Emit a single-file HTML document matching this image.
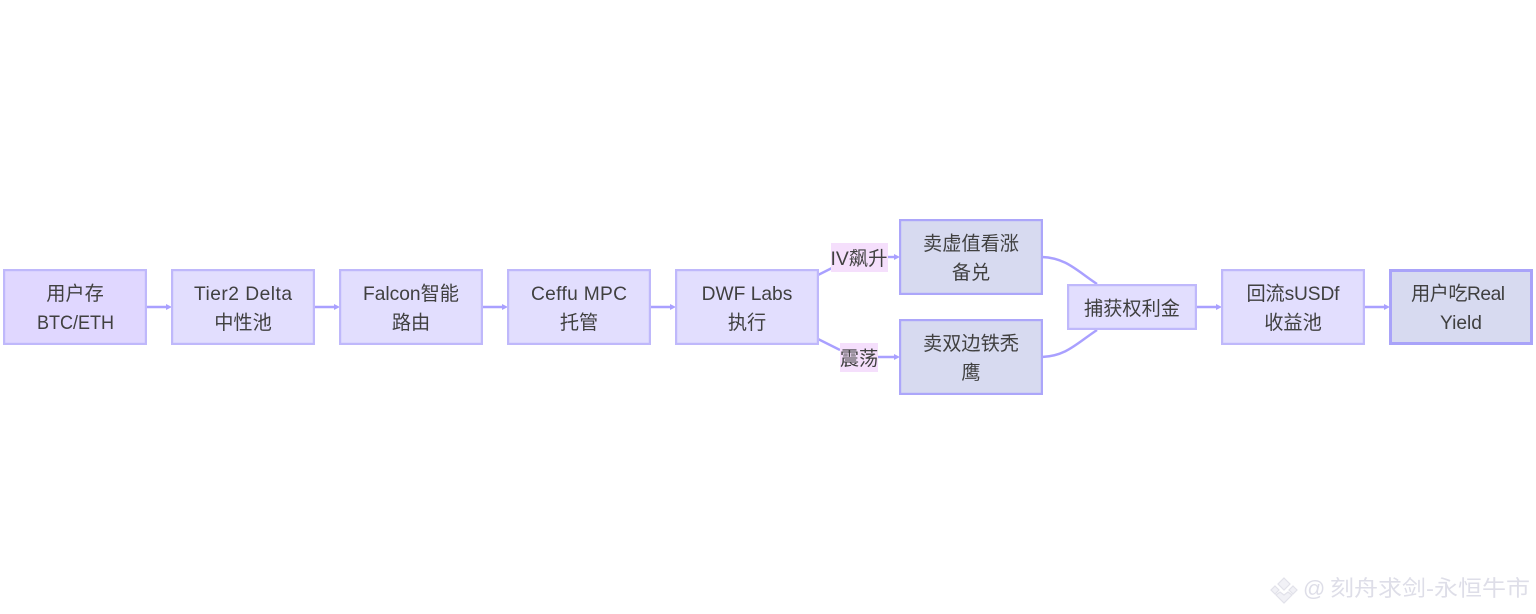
<!DOCTYPE html>
<html lang="zh">
<head>
<meta charset="utf-8">
<style>
html,body{margin:0;padding:0;background:#fff;width:1536px;height:614px;overflow:hidden}
svg{display:block}
text{font-family:"Liberation Sans","Noto Sans CJK SC",sans-serif;font-size:19.2px;fill:#404040;text-anchor:middle}
.n{fill:#e2defe;stroke:#bfb8fb;stroke-width:2.2}
.s{fill:#e0d7ff;stroke:#bfb8fb;stroke-width:2.2}
.d{fill:#d7daf0;stroke:#aca6fa;stroke-width:2.2}
.f{fill:#d7daf0;stroke:#a9a3f9;stroke-width:3}
.e{fill:none;stroke:#a9a0ff;stroke-width:2.4}
.a{fill:#a9a0ff}
.l{fill:#f5dffc}
.w{font-size:22px;fill:#dedee8;text-anchor:start}
</style>
</head>
<body>
<svg width="1536" height="614" viewBox="0 0 1536 614" xmlns="http://www.w3.org/2000/svg">
<!-- connectors -->
<path class="e" d="M146 307H168"/><path class="a" d="M172 307l-6-3v6z"/>
<path class="e" d="M314 307H336"/><path class="a" d="M340 307l-6-3v6z"/>
<path class="e" d="M482 307H504"/><path class="a" d="M508 307l-6-3v6z"/>
<path class="e" d="M650 307H672"/><path class="a" d="M676 307l-6-3v6z"/>
<path class="e" d="M818 275L832 268"/>
<path class="e" d="M888 257H896"/><path class="a" d="M900 257l-6-3v6z"/>
<path class="e" d="M818 339L840 350"/>
<path class="e" d="M878 357H896"/><path class="a" d="M900 357l-6-3v6z"/>
<path class="e" d="M1042 257C1066 258 1076 270 1097 284"/>
<path class="e" d="M1042 357C1066 356 1076 344 1097 330"/>
<path class="e" d="M1196 307H1218"/><path class="a" d="M1222 307l-6-3v6z"/>
<path class="e" d="M1364 307H1386"/><path class="a" d="M1390 307l-6-3v6z"/>

<!-- edge labels -->
<rect class="l" x="831" y="243" width="57" height="29"/>
<text x="859" y="265" textLength="57" lengthAdjust="spacingAndGlyphs">IV飙升</text>
<rect class="l" x="840" y="343" width="38" height="29"/>
<text x="859" y="365">震荡</text>

<!-- nodes -->
<rect class="s" x="4.1" y="270.1" width="141.8" height="73.8"/>
<text x="75" y="300">用户存</text><text x="75.5" y="329" textLength="77" lengthAdjust="spacingAndGlyphs">BTC/ETH</text>

<rect class="n" x="172.1" y="270.1" width="141.8" height="73.8"/>
<text x="243" y="300" textLength="98" lengthAdjust="spacing">Tier2 Delta</text><text x="243" y="329">中性池</text>

<rect class="n" x="340.1" y="270.1" width="141.8" height="73.8"/>
<text x="411" y="300">Falcon智能</text><text x="411" y="329">路由</text>

<rect class="n" x="508.1" y="270.1" width="141.8" height="73.8"/>
<text x="579" y="300" textLength="96" lengthAdjust="spacing">Ceffu MPC</text><text x="579" y="329">托管</text>

<rect class="n" x="676.1" y="270.1" width="141.8" height="73.8"/>
<text x="747" y="300">DWF Labs</text><text x="747" y="329">执行</text>

<rect class="d" x="900.1" y="220.1" width="141.8" height="73.8"/>
<text x="971" y="250">卖虚值看涨</text><text x="971" y="279">备兑</text>

<rect class="d" x="900.1" y="320.1" width="141.8" height="73.8"/>
<text x="971" y="350">卖双边铁秃</text><text x="971" y="379">鹰</text>

<rect class="n" x="1068.1" y="285.1" width="127.8" height="43.8"/>
<text x="1132" y="315">捕获权利金</text>

<rect class="n" x="1222.1" y="270.1" width="141.8" height="73.8"/>
<text x="1293" y="300" textLength="93" lengthAdjust="spacing">回流sUSDf</text><text x="1293" y="329">收益池</text>

<rect class="f" x="1390.5" y="270.5" width="141" height="73"/>
<text x="1458" y="300" textLength="94" lengthAdjust="spacing">用户吃Real</text><text x="1461" y="329">Yield</text>

<!-- watermark -->
<g fill="#f1f1f6" stroke="#e2e2ea" stroke-width="1.2">
<path d="M1284 578l6 6-6 6-6-6z"/>
<path d="M1275 586l4 4-4 4-4-4z"/>
<path d="M1293 586l4 4-4 4-4-4z"/>
<path d="M1276 595l8 8 8-8-4-3-4 3-4-3z"/>
</g>
<text class="w" x="1303" y="596">@</text>
<text class="w" x="1330" y="596" textLength="200" lengthAdjust="spacingAndGlyphs">刻舟求剑-永恒牛市</text>
</svg>
</body>
</html>
